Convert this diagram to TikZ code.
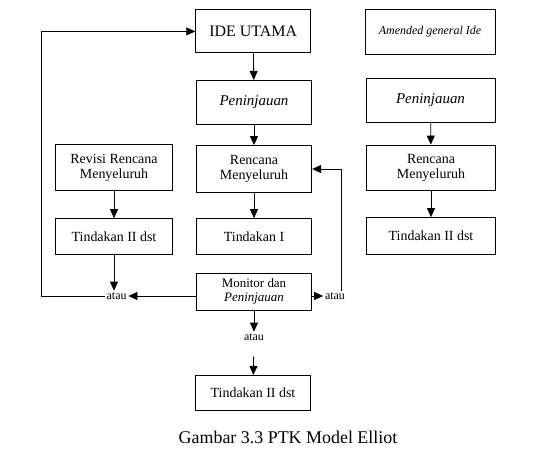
\documentclass[tikz,border=0pt]{standalone}
\usepackage{fontspec}
\setmainfont{Liberation Serif}
\usetikzlibrary{arrows.meta}

\begin{document}
\begin{tikzpicture}[x=1bp,y=-1bp,line width=.8bp,
  box/.style={draw,align=center,inner sep=0pt,font=\fontsize{14}{15}\selectfont},
  tip/.style={-{Triangle[length=9bp,width=8bp]}},
  small/.style={font=\fontsize{12}{13}\selectfont,inner sep=1.5bp}]
\useasboundingbox (0,0) rectangle (540,471);
\node[box,minimum width=115bp,minimum height=43bp,font=\fontsize{16}{17}\selectfont] (ide) at (253.2,31.4) {IDE UTAMA};
\node[box,minimum width=130bp,minimum height=44.6bp,font=\fontsize{12}{13}\selectfont\itshape] (amended) at (430,32) {Amended general Ide};
\node[box,minimum width=115.6bp,minimum height=44.3bp,font=\fontsize{15}{16}\selectfont\itshape] (pen1) at (254,102.5) {Peninjauan};
\node[box,minimum width=129bp,minimum height=44.7bp,font=\fontsize{15}{16}\selectfont\itshape] (pen2) at (430.5,100.5) {Peninjauan};
\node[box,minimum width=116.7bp,minimum height=45.7bp] (revisi) at (114,167.7) {Revisi Rencana\\Menyeluruh};
\node[box,minimum width=115.6bp,minimum height=47bp] (renc1) at (254,169) {Rencana\\Menyeluruh};
\node[box,minimum width=129.7bp,minimum height=45.6bp] (renc2) at (431,167.8) {Rencana\\Menyeluruh};
\node[box,minimum width=116.7bp,minimum height=36bp] (tind2a) at (114,236.6) {Tindakan II dst};
\node[box,minimum width=115.6bp,minimum height=36bp] (tind1) at (254,236.6) {Tindakan I};
\node[box,minimum width=129.7bp,minimum height=37bp] (tind2b) at (431,236) {Tindakan II dst};
\node[box,minimum width=115.6bp,minimum height=36.4bp,font=\fontsize{13}{14}\selectfont] (monitor) at (254,291.8) {Monitor dan\\\textit{Peninjauan}};
\node[box,minimum width=115.7bp,minimum height=34.7bp] (tind2c) at (253,392.7) {Tindakan II dst};

\node[small] (atauL) at (116.6,296) {atau};
\node[small] (atauR) at (335,296) {atau};
\node[small] (atauB) at (254,337) {atau};
\node[font=\fontsize{18}{19}\selectfont] (caption) at (288,437) {Gambar 3.3 PTK Model Elliot};
\coordinate (loop) at (41.5,0);

\foreach \from/\to in {ide/pen1,pen1/renc1,renc1/tind1,revisi/tind2a,pen2/renc2,renc2/tind2b,monitor/atauB}
\draw[tip] (\from) -- (\to);
\draw[tip] (tind2a.south) -- (tind2a.south |- atauL.north);
\draw[tip,shorten <=14bp] (atauB) -- (tind2c);
\draw[tip] (monitor.west |- atauL) -- (atauL);
\draw[tip] (monitor.east |- atauR) -- (atauR);
\draw[tip] (atauL.west) -- (atauL.west -| loop) |- (ide.west);
\draw[tip] ([xshift=6bp]atauR.north) |- (renc1.east);
\end{tikzpicture}
\end{document}
